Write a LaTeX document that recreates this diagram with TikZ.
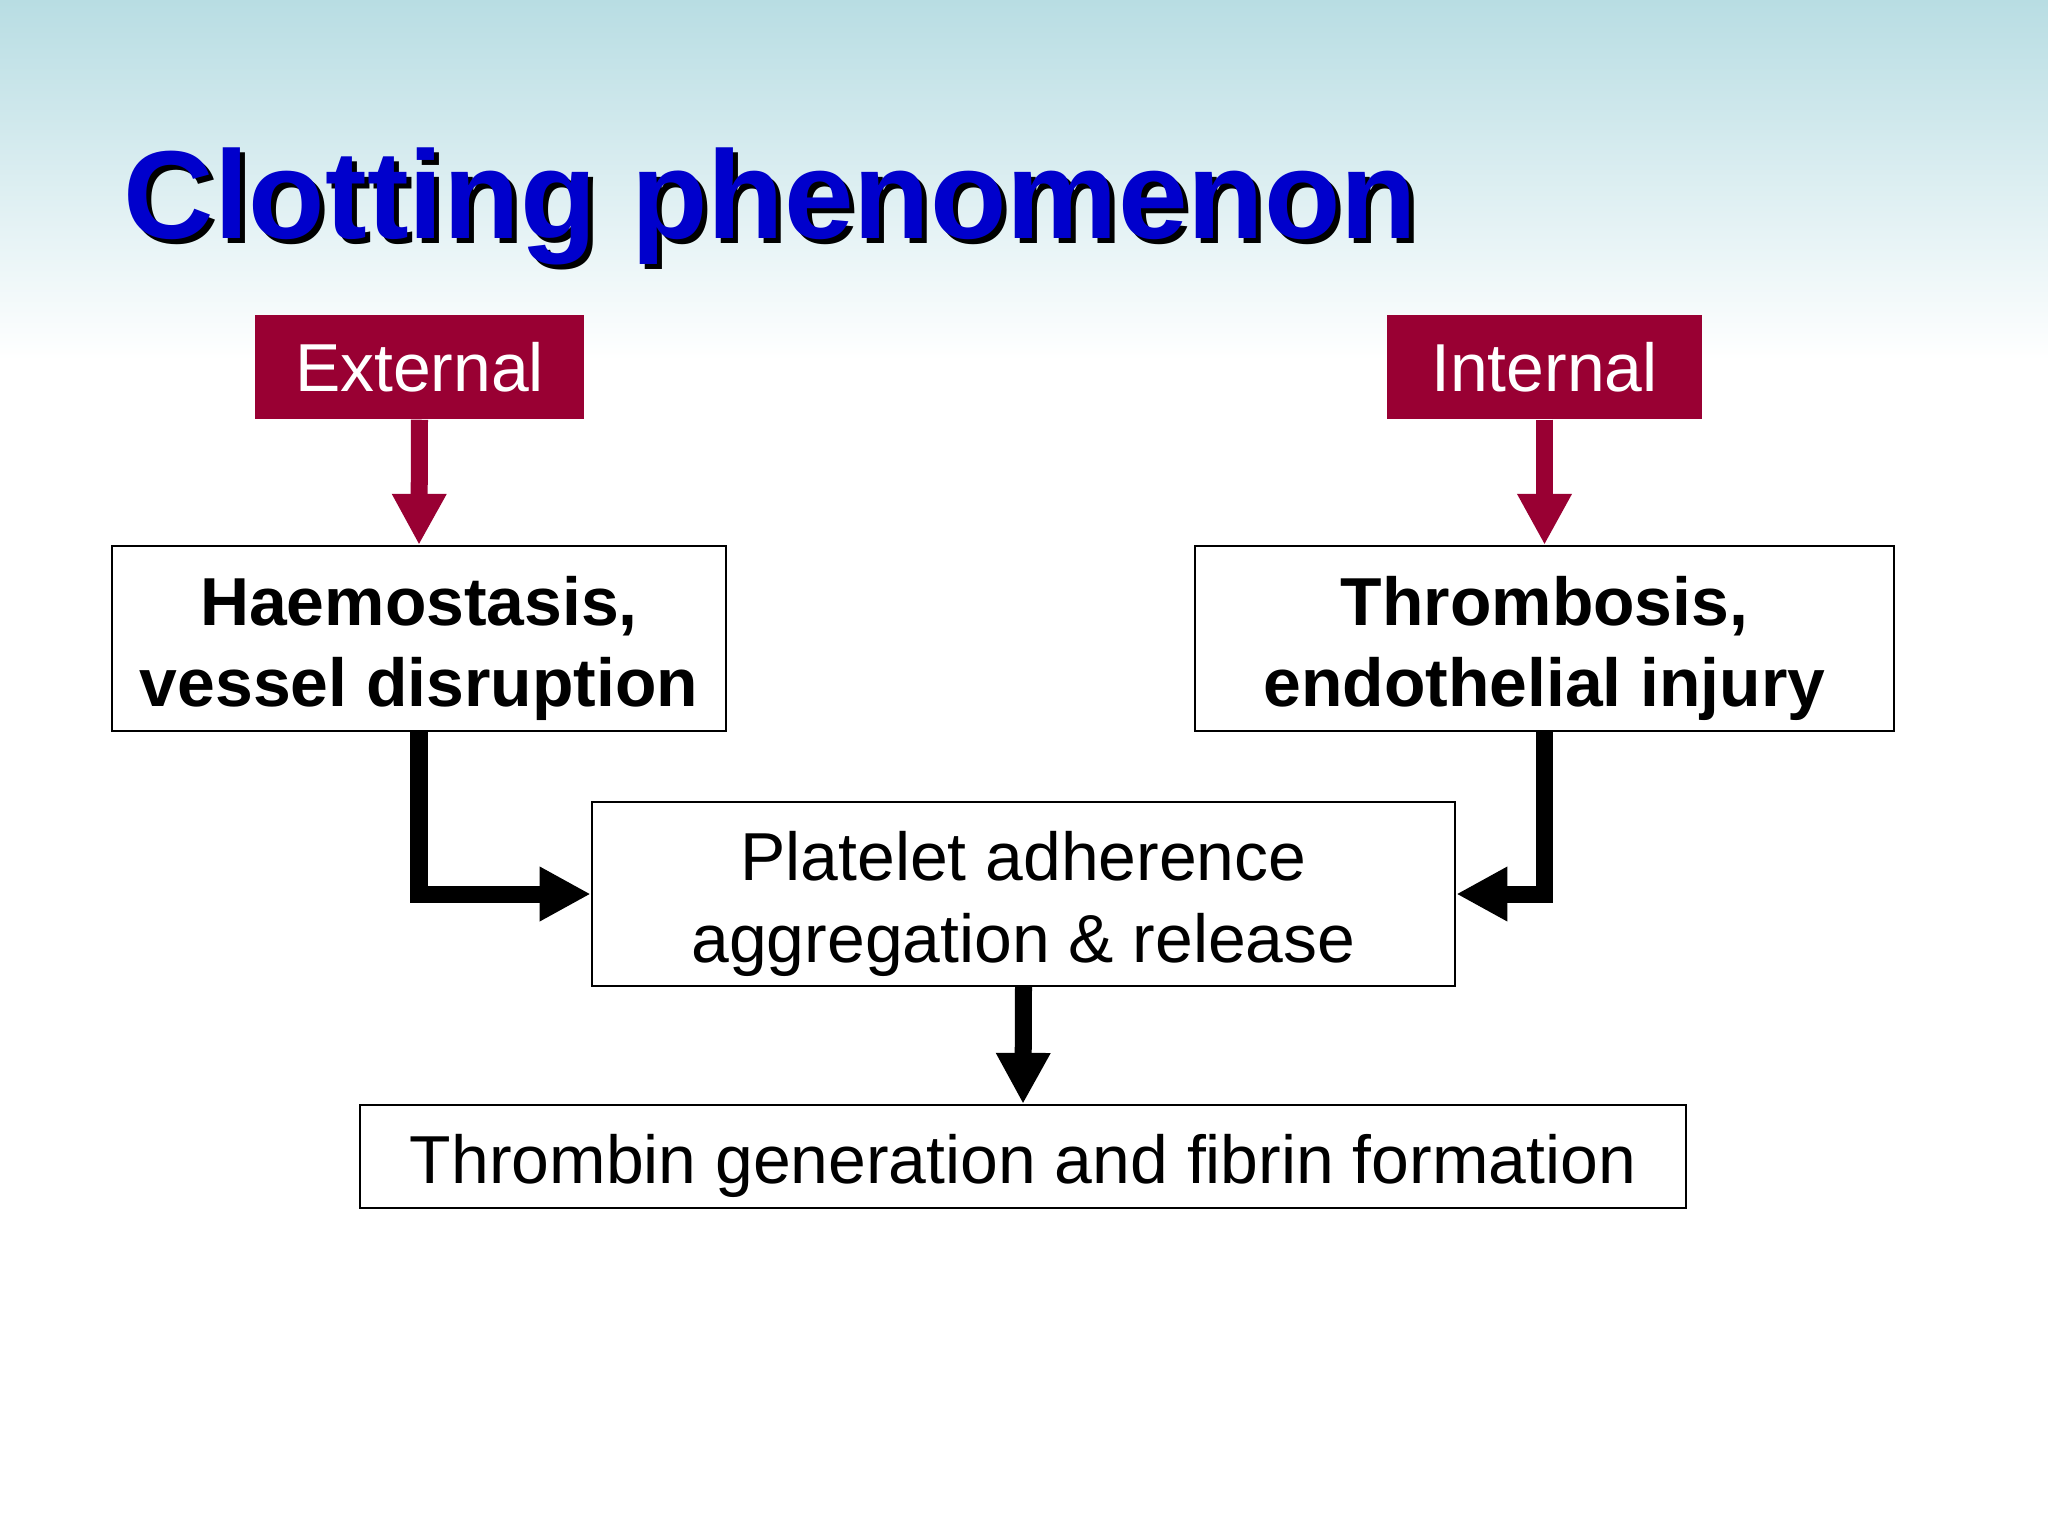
\documentclass[tikz,border=0pt]{standalone}
\usepackage{fontspec}
\setmainfont{Liberation Sans}
\usetikzlibrary{arrows.meta}
\definecolor{titleblue}{RGB}{0,0,204}
\definecolor{boxred}{RGB}{153,0,51}
\definecolor{skytop}{RGB}{184,221,227}
\tikzset{
  redbox/.style={fill=boxred, text=white, minimum width=3.29cm, minimum height=1.04cm, inner sep=0pt,
    font=\fontsize{19.3}{23.1}\selectfont},
  whitebox/.style={draw=black, line width=0.6pt, fill=white, inner sep=0pt},
  boxtext/.style={inner sep=0pt, align=center, yshift=-0.1cm, font=\fontsize{19.3}{23.1}\selectfont},
  boldtext/.style={boxtext, font=\fontsize{19.3}{23.1}\selectfont\bfseries},
  bigarrow/.style={line width=0.17cm, line join=miter, -{Triangle[length=0.51cm,width=0.51cm]}},
}
\begin{document}
\begin{tikzpicture}[x=0.01cm,y=-0.01cm]
\useasboundingbox (0,0) rectangle (2048,1536);
\fill[white] (0,0) rectangle (2048,1536);
\shade[top color=skytop, bottom color=white] (0,0) rectangle (2048,360);
% title
\node[anchor=base west, inner sep=0pt, text=black, font=\fontsize{35.6}{42}\selectfont\bfseries] (titleshadow) at (128,243) {Clotting phenomenon};
\node[anchor=base west, inner sep=0pt, text=titleblue, font=\fontsize{35.6}{42}\selectfont\bfseries] (title) at (123,238) {Clotting phenomenon};
% red boxes
\node[redbox] (ext) at (419.5,367) {External};
\node[redbox, minimum width=3.15cm] (int) at (1544.5,367) {Internal};
% white boxes
\node[whitebox, minimum width=6.14cm, minimum height=1.85cm,
  label={[boldtext]center:Haemostasis,\\vessel disruption}] (hae) at (419,638.5) {};
\node[whitebox, minimum width=6.99cm, minimum height=1.85cm,
  label={[boldtext]center:Thrombosis,\\endothelial injury}] (thr) at (1544.5,638.5) {};
\node[whitebox, minimum width=8.63cm, minimum height=1.84cm,
  label={[boxtext]center:Platelet adherence\\aggregation \& release}] (pla) at (1023.5,894) {};
\node[whitebox, minimum width=13.26cm, minimum height=1.03cm,
  label={[boxtext, yshift=0.01cm]center:Thrombin generation and fibrin formation}] (fib) at (1023,1156.5) {};
% arrows
\draw[bigarrow, boxred] (ext.south) -- (hae.north);
\draw[bigarrow, boxred] (int.south) -- (thr.north);
\draw[bigarrow] (hae.south) |- (pla.west);
\draw[bigarrow] (thr.south) |- (pla.east);
\draw[bigarrow] (pla.south) -- (fib.north);
\end{tikzpicture}
\end{document}
